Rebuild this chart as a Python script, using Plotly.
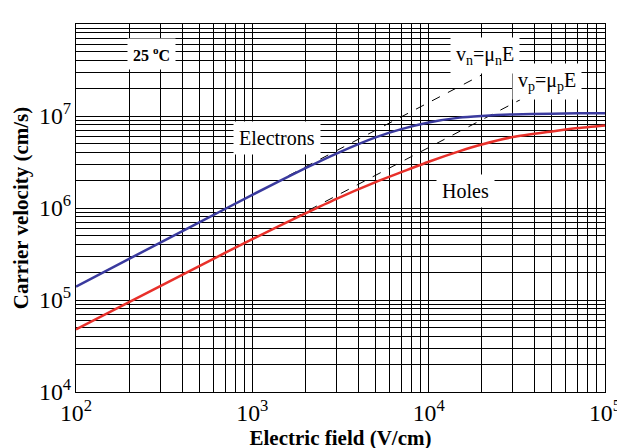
import plotly.graph_objects as go

E = [100, 200, 500, 1000, 2000, 3000, 5000, 7000, 10000, 15000, 20000, 30000, 50000, 70000, 100000]
v_electrons = [1.40e5, 2.80e5, 6.98e5, 1.39e6, 2.71e6, 3.91e6, 5.86e6, 7.2e6, 8.5e6, 9.6e6, 1.0e7, 1.04e7, 1.06e7, 1.07e7, 1.07e7]
v_holes = [4.78e4, 9.5e4, 2.34e5, 4.58e5, 8.75e5, 1.26e6, 1.91e6, 2.45e6, 3.18e6, 4.15e6, 4.9e6, 5.9e6, 6.8e6, 7.4e6, 7.9e6]
E_dash_n = [1600, 20000]
v_dash_n = [2.24e6, 2.8e7]
E_dash_p = [1700, 33000]
v_dash_p = [7.7e5, 1.5e7]

fig = go.Figure()
fig.add_trace(go.Scatter(x=E_dash_n, y=v_dash_n, mode="lines", line=dict(color="black", width=1, dash="dash")))
fig.add_trace(go.Scatter(x=E_dash_p, y=v_dash_p, mode="lines", line=dict(color="black", width=1, dash="dash")))
fig.add_trace(go.Scatter(x=E, y=v_electrons, mode="lines", line=dict(color="#3a3a9e", width=2.5, shape="spline", smoothing=0.6)))
fig.add_trace(go.Scatter(x=E, y=v_holes, mode="lines", line=dict(color="#e8302a", width=2.5, shape="spline", smoothing=0.6)))

serif = "Liberation Serif, Times New Roman, serif"
ax = dict(type="log", showline=True, linecolor="black", linewidth=1.2, mirror=True,
          showgrid=True, gridcolor="black", gridwidth=1.2, ticks="", zeroline=False,
          tickfont=dict(family=serif, size=19, color="black"),
          minor=dict(showgrid=True, gridcolor="black", gridwidth=1.2, dtick="D1"),
          exponentformat="power", dtick=1)
fig.update_xaxes(**ax, range=[2, 5],
                 title=dict(text="<b>Electric field (V/cm)</b>", font=dict(family=serif, size=21, color="black"), standoff=4))
fig.update_yaxes(**ax, range=[4, 8],
                 title=dict(text="<b>Carrier velocity (cm/s)</b>", font=dict(family=serif, size=21, color="black"), standoff=4))

def ann(text, x, y, size=20, bold=False):
    fig.add_annotation(x=x, y=y, xref="x", yref="y", text=("<b>%s</b>" % text) if bold else text,
                       showarrow=False, bgcolor="white", borderpad=5,
                       font=dict(family=serif, size=size, color="black"))

ann("25 <sup>o</sup>C", 2.43, 7.67, size=16, bold=True)
ann("Electrons", 3.14, 6.76)
ann("Holes", 4.21, 6.19)
ann("v<sub>n</sub>=μ<sub>n</sub>E", 4.32, 7.66)
ann("v<sub>p</sub>=μ<sub>p</sub>E", 4.67, 7.37)

fig.update_layout(width=625, height=448, showlegend=False, plot_bgcolor="white", paper_bgcolor="white",
                  margin=dict(l=67, r=17, t=16, b=59))
fig.write_html("out.html")
